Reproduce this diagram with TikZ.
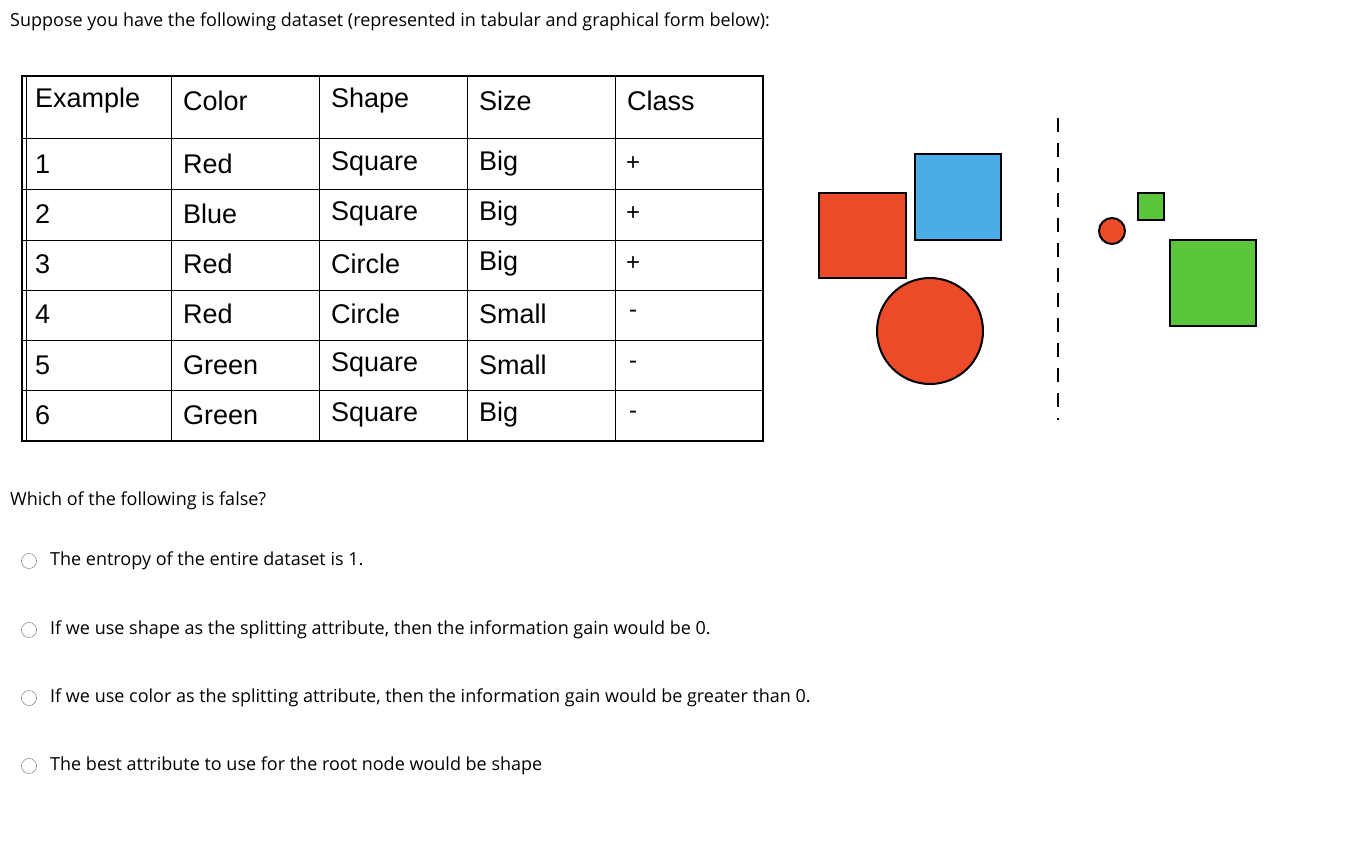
\documentclass[tikz,border=0pt]{standalone}
\usepackage{fontspec}
\setmainfont{Open Sans}
\newfontfamily\arialf{Liberation Sans}
\definecolor{sred}{HTML}{EC4A29}
\definecolor{sblue}{HTML}{4BADE8}
\definecolor{sgreen}{HTML}{5BC53B}
\begin{document}
\begin{tikzpicture}[x=1pt,y=-1pt,
  qtext/.style={anchor=west,inner sep=0pt,font=\fontsize{18}{20}\selectfont},
  cell/.style={anchor=west,inner sep=0pt,font=\arialf\fontsize{27}{30}\selectfont},
  radio/.style={draw=black!60,circle,minimum size=15pt,inner sep=0pt},
  shp/.style={draw=black,line width=2pt}]
\useasboundingbox (0,0) rectangle (1354,848);
\node[qtext] (title) at (10,22) {Suppose you have the following dataset (represented in tabular and graphical form below):};
% table
\foreach \y in {139,189,240,290,340,390} \draw[line width=1pt] (22,\y) -- (763,\y);
\foreach \x in {171,319,467,615} \draw[line width=1pt] (\x,76) -- (\x,441);
\draw[line width=2.5pt] (22,76) rectangle (763,441);
\draw[line width=1pt] (26,76) -- (26,441);
\def\cols{{35,183,331,479,627}}
\foreach \t [count=\i from 0] in {Example,Color,Shape,Size,Class}
  \node[cell] (h\i) at ({\cols[\i]},101) {\t};
\foreach \r/\a/\b/\c/\d/\e [count=\j] in {
  164/1/Red/Square/Big/+, 214/2/Blue/Square/Big/+, 264/3/Red/Circle/Big/+,
  314/4/Red/Circle/Small/-, 365/5/Green/Square/Small/-, 415/6/Green/Square/Big/-}{
  \node[cell] (r\j a) at (35,\r) {\a};
  \node[cell] (r\j b) at (183,\r) {\b};
  \node[cell] (r\j c) at (331,\r) {\c};
  \node[cell] (r\j d) at (479,\r) {\d};
  \node[cell,anchor=center,font=\arialf\fontsize{24}{26}\selectfont] (r\j e) at (633,\r) {\e};
}
% shapes
\draw[shp,fill=sred] (819,193) rectangle (906,278);
\draw[shp,fill=sblue] (915,154) rectangle (1001,240);
\draw[shp,fill=sred] (930,331) circle (53);
\draw[line width=2pt,dash pattern=on 14pt off 11pt] (1058,118) -- (1058,420);
\draw[shp,fill=sred] (1112,231) circle (13);
\draw[shp,fill=sgreen] (1138,193) rectangle (1164,220);
\draw[shp,fill=sgreen] (1170,240) rectangle (1256,326);
% question
\node[qtext] (q) at (10,501) {Which of the following is false?};
\foreach \y/\t [count=\k] in {561/{The entropy of the entire dataset is 1.},
  630/{If we use shape as the splitting attribute, then the information gain would be 0.},
  698/{If we use color as the splitting attribute, then the information gain would be greater than 0.},
  766/{The best attribute to use for the root node would be shape}}{
  \node[radio] (o\k) at (29,\y) {};
  \node[qtext] (a\k) at (50,\y) {\t};
}
\end{tikzpicture}
\end{document}
